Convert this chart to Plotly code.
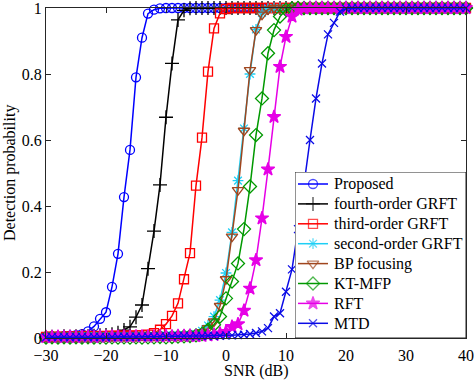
import plotly.graph_objects as go

snr = [-30, -29, -28, -27, -26, -25, -24, -23, -22, -21, -20, -19, -18, -17, -16, -15,
       -14, -13, -12, -11, -10, -9, -8, -7, -6, -5, -4, -3, -2, -1, 0, 1, 2, 3, 4, 5,
       6, 7, 8, 9, 10, 11, 12, 13, 14, 15, 16, 17, 18, 19, 20, 21, 22, 23, 24, 25,
       26, 27, 28, 29, 30, 31, 32, 33, 34, 35, 36, 37, 38, 39, 40]

proposed = [0.004, 0.005, 0.004, 0.006, 0.007, 0.009,
            0.012, 0.02, 0.035, 0.058, 0.078, 0.155, 0.255, 0.427, 0.57, 0.79, 0.91, 0.983, 0.995,
            0.999,
            1, 1, 1, 1, 1, 1, 1, 1, 1, 1, 1, 1, 1, 1, 1, 1, 1, 1, 1, 1, 1, 1, 1, 1, 1, 1,
            1, 1, 1, 1, 1, 1, 1, 1, 1, 1, 1, 1, 1, 1, 1, 1, 1, 1, 1, 1, 1, 1, 1, 1, 1]

fourth_grft = [0.003, 0.004, 0.003, 0.005, 0.004, 0.005, 0.006, 0.005, 0.007, 0.008, 0.009, 0.011,
               0.016, 0.024, 0.034, 0.063, 0.1, 0.21, 0.324, 0.464, 0.669, 0.832, 0.964, 0.993, 0.999,
               1, 1, 1, 1, 1, 1, 1, 1, 1, 1, 1, 1, 1, 1, 1, 1, 1, 1, 1, 1, 1, 1, 1, 1, 1, 1,
               1, 1, 1, 1, 1, 1, 1, 1, 1, 1, 1, 1, 1, 1, 1, 1, 1, 1, 1, 1]

third_grft = [0.003, 0.004, 0.003, 0.004, 0.005, 0.004, 0.005, 0.006, 0.005, 0.006, 0.005, 0.007,
              0.006, 0.007, 0.006, 0.008, 0.008,
              0.01, 0.015, 0.025, 0.042, 0.067, 0.105, 0.178, 0.257, 0.462, 0.607, 0.807, 0.938, 0.984, 0.997,
              1, 1, 1, 1, 1, 1, 1, 1, 1, 1, 1, 1, 1, 1, 1, 1, 1, 1, 1, 1,
              1, 1, 1, 1, 1, 1, 1, 1, 1, 1, 1, 1, 1, 1, 1, 1, 1, 1, 1, 1]

second_grft = [0.003, 0.004, 0.003, 0.004, 0.003, 0.005, 0.004, 0.005, 0.004, 0.006, 0.005, 0.004,
               0.005, 0.006, 0.005, 0.006, 0.007, 0.006, 0.007, 0.006, 0.008, 0.007, 0.008, 0.009, 0.009,
               0.012, 0.022, 0.038, 0.065, 0.115, 0.197, 0.32, 0.477, 0.635, 0.8, 0.935, 0.985, 0.998,
               1, 1, 1, 1, 1, 1, 1, 1, 1, 1, 1, 1, 1, 1, 1, 1, 1, 1, 1,
               1, 1, 1, 1, 1, 1, 1, 1, 1, 1, 1, 1, 1, 1]

bp_focusing = [0.004, 0.003, 0.004, 0.005, 0.004, 0.003, 0.005, 0.004, 0.005, 0.006, 0.004, 0.005,
               0.006, 0.005, 0.006, 0.005, 0.007, 0.006, 0.006, 0.007, 0.007, 0.008, 0.007, 0.008, 0.009,
               0.01, 0.018, 0.03, 0.05, 0.097, 0.178, 0.307, 0.448, 0.628, 0.812, 0.933, 0.98, 0.996,
               1, 1, 1, 1, 1, 1, 1, 1, 1, 1, 1, 1, 1, 1, 1, 1, 1, 1, 1,
               1, 1, 1, 1, 1, 1, 1, 1, 1, 1, 1, 1, 1, 1]

kt_mfp = [0.001, 0.002, 0.001, 0.002, 0.001, 0.002, 0.001, 0.002, 0.001, 0.002, 0.001, 0.002, 0.001,
          0.002, 0.001, 0.002, 0.001, 0.002, 0.002, 0.003, 0.002, 0.003, 0.004, 0.005, 0.006, 0.008,
          0.012, 0.025, 0.04, 0.065, 0.12, 0.171, 0.226, 0.33, 0.459, 0.615, 0.726, 0.863, 0.933, 0.974,
          0.995, 0.999,
          1, 1, 1, 1, 1, 1, 1, 1, 1, 1, 1, 1, 1, 1, 1, 1, 1, 1, 1, 1,
          1, 1, 1, 1, 1, 1, 1, 1, 1]

rft = [0.003, 0.003, 0.004, 0.003, 0.004, 0.003, 0.004, 0.004, 0.003, 0.004, 0.004, 0.005, 0.004,
       0.005, 0.004, 0.005, 0.005, 0.004, 0.005, 0.005, 0.006, 0.005, 0.006, 0.006, 0.007, 0.006, 0.007,
       0.008, 0.01, 0.014, 0.019, 0.034, 0.042, 0.083, 0.15, 0.236, 0.363, 0.511, 0.67, 0.822, 0.913,
       0.974, 0.995, 0.999,
       1, 1, 1, 1, 1, 1, 1, 1, 1, 1, 1, 1, 1, 1, 1, 1, 1, 1, 1, 1,
       1, 1, 1, 1, 1, 1, 1]

mtd = [0.002, 0.003, 0.002, 0.003, 0.002, 0.003, 0.003, 0.002, 0.003, 0.003, 0.002, 0.003, 0.003,
       0.004, 0.003, 0.004, 0.003, 0.004, 0.004, 0.005, 0.004, 0.005, 0.005, 0.006, 0.005, 0.006, 0.006,
       0.007, 0.006, 0.007, 0.008, 0.008, 0.009,
       0.01, 0.012, 0.015, 0.02, 0.03, 0.065, 0.075, 0.14, 0.208, 0.33, 0.47, 0.6, 0.726, 0.832, 0.92,
       0.955, 0.989, 0.998,
       1, 1, 1, 1, 1, 1, 1, 1, 1, 1, 1, 1, 1, 1, 1, 1, 1, 1, 1, 1]

series_names = ["Proposed", "fourth-order GRFT", "third-order GRFT", "second-order GRFT",
                "BP focusing", "KT-MFP", "RFT", "MTD"]
series_values = [proposed, fourth_grft, third_grft, second_grft, bp_focusing, kt_mfp, rft, mtd]

x_ticks = [-30, -20, -10, 0, 10, 20, 30, 40]
y_ticks = [0, 0.2, 0.4, 0.6, 0.8, 1]
y_tick_labels = ["0", "0.2", "0.4", "0.6", "0.8", "1"]

# styles
colors = ["#0000FF", "#000000", "#FF0000", "#1ECFF5", "#A0461E", "#009900", "#E600E6", "#0A0AE6"]
symbols = ["circle-open", "cross-thin-open", "square-open", "asterisk-open",
           "triangle-down-open", "diamond-open", "star", "x-thin-open"]
sizes = [9, 10, 9, 9, 10, 10, 10, 8]

W, H = 474, 383
ML, MR, MT, MB = 46, 8, 8, 45
PW, PH = W - ML - MR, H - MT - MB
font_family = "Liberation Serif, Times New Roman, serif"

fig = go.Figure()
for name, vals, color, sym, size in zip(series_names, series_values, colors, symbols, sizes):
    fig.add_trace(go.Scatter(
        x=snr, y=vals, name=name, mode="lines+markers",
        line=dict(color=color, width=1.5),
        marker=dict(symbol=sym, size=size, color=color, line=dict(color=color, width=1.3)),
        cliponaxis=False, showlegend=False,
    ))

# ---- legend box (drawn in its own pixel-scaled overlay axes) ----
leg_left, leg_right, leg_top, leg_bottom = 295, 466, 172, 338
row_first, row_step = 184, 19.9
samp_x0, samp_xm, samp_x1, text_x = 298, 313, 328, 332

fig.add_trace(go.Scatter(
    x=[leg_left, leg_right, leg_right, leg_left, leg_left],
    y=[leg_top, leg_top, leg_bottom, leg_bottom, leg_top],
    xaxis="x2", yaxis="y2", mode="lines", fill="toself", fillcolor="white",
    line=dict(color="#262626", width=1), showlegend=False, hoverinfo="skip",
))
for i, (name, color, sym, size) in enumerate(zip(series_names, colors, symbols, sizes)):
    yy = row_first + i * row_step
    fig.add_trace(go.Scatter(
        x=[samp_x0, samp_xm, samp_x1], y=[yy, yy, yy], xaxis="x2", yaxis="y2",
        mode="lines+markers", line=dict(color=color, width=1.5),
        marker=dict(symbol=sym, size=[0, size, 0], color=color, line=dict(color=color, width=1.3)),
        showlegend=False, hoverinfo="skip", cliponaxis=False,
    ))
    fig.add_annotation(x=text_x, y=yy, xref="x2", yref="y2", text=name, showarrow=False,
                       xanchor="left", yanchor="middle",
                       font=dict(family=font_family, size=16, color="#000000"))

axis_common = dict(
    showgrid=False, zeroline=False, showline=True, linecolor="#262626", linewidth=1,
    mirror="ticks", ticks="inside", ticklen=5, tickcolor="#262626", automargin=False,
    ticklabeloverflow="allow",
    tickfont=dict(family=font_family, size=16, color="#000000"),
)

fig.update_layout(
    width=W, height=H,
    margin=dict(l=ML, r=MR, t=MT, b=MB),
    paper_bgcolor="white", plot_bgcolor="white",
    font=dict(family=font_family, size=16, color="#000000"),
    xaxis=dict(range=[-30, 40], tickvals=x_ticks, ticklabelstandoff=3, **axis_common),
    yaxis=dict(range=[0, 1], tickvals=y_ticks, ticktext=y_tick_labels, **axis_common),
    xaxis2=dict(domain=[(leg_left - ML) / PW, (leg_right - ML) / PW], range=[leg_left, leg_right],
                visible=False, fixedrange=True, anchor="y2"),
    yaxis2=dict(domain=[0, (H - MB - leg_top) / PH], range=[leg_bottom, leg_top],
                visible=False, fixedrange=True, anchor="x2"),
    showlegend=False,
)

fig.add_annotation(x=0.5, y=-(371 - (H - MB)) / PH, xref="paper", yref="paper",
                   text="SNR (dB)", showarrow=False, xanchor="center", yanchor="middle",
                   font=dict(family=font_family, size=16, color="#000000"))
fig.add_annotation(x=-(ML - 10) / PW, y=0.5, xref="paper", yref="paper",
                   text="Detection probability", showarrow=False, textangle=-90,
                   xanchor="center", yanchor="middle",
                   font=dict(family=font_family, size=16, color="#000000"))

fig.write_html(
    "out.html",
    config={"displayModeBar": False},
    post_script="document.body.style.margin='0px';document.body.style.padding='0px';"
                "document.body.style.overflow='hidden';",
)
